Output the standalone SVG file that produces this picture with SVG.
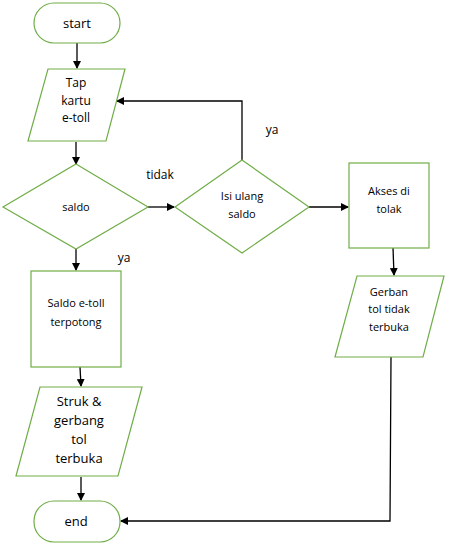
<svg xmlns="http://www.w3.org/2000/svg" width="450" height="545" viewBox="0 0 450 545">
<defs>
<marker id="ah" markerWidth="8" markerHeight="8" refX="7" refY="4" orient="auto" markerUnits="userSpaceOnUse">
<path d="M0,0 L8,4 L0,8 Z" fill="#000"/>
</marker>
<style>
.s{fill:#fff;stroke:#70AD47;stroke-width:1.2}
.t{font-family:"Open Sans","Noto Sans",sans-serif;font-size:11px;fill:#000;text-anchor:middle}
.b{font-size:13px}
.m{font-size:12px}
.c{fill:none;stroke:#000;stroke-width:1.3;marker-end:url(#ah)}
.l{fill:none;stroke:#000;stroke-width:1.3}
</style>
</defs>
<rect width="450" height="545" fill="#fff"/>
<g id="connectors">
<path class="c" d="M77,43 L77,68"/>
<path class="c" d="M76,142 L76,164"/>
<path class="c" d="M148,207 L174,207"/>
<path class="c" d="M242,160 L242,101 L117,101"/>
<path class="c" d="M309,207 L348,207"/>
<path class="c" d="M76,249 L76,270"/>
<path class="c" d="M393,248 L394,275"/>
<path class="c" d="M80,367 L81,386"/>
<path class="c" d="M81,477 L81,500"/>
<path class="c" d="M391,357 L390,521 L121,521"/>
</g>
<g id="label-tidak"><text class="t m" x="160" y="179">tidak</text></g>
<g id="label-ya1"><text class="t m" x="272" y="134">ya</text></g>
<g id="label-ya2"><text class="t m" x="124" y="262">ya</text></g>
<g id="start">
<rect class="s" x="34" y="3" width="86" height="40" rx="20"/>
<text class="t b" x="77" y="28">start</text>
</g>
<g id="tap">
<polygon class="s" points="48,69 125,69 106,141 28,141"/>
<text class="t m" x="76" y="87">Tap</text>
<text class="t m" x="76" y="105">kartu</text>
<text class="t m" x="76" y="122">e-toll</text>
</g>
<g id="saldo">
<polygon class="s" points="76,164 148,207 76,249 3,207"/>
<text class="t" x="76" y="211">saldo</text>
</g>
<g id="isi">
<polygon class="s" points="242,160 309,207 242,253 175,207"/>
<text class="t" x="242" y="200">Isi ulang</text>
<text class="t" x="242" y="218">saldo</text>
</g>
<g id="akses">
<rect class="s" x="349" y="163" width="80" height="85"/>
<text class="t" x="389" y="195">Akses di</text>
<text class="t" x="389" y="213">tolak</text>
</g>
<g id="gerban">
<polygon class="s" points="357,276 444,276 423,357 335,357"/>
<text class="t" x="389" y="296">Gerban</text>
<text class="t" x="389" y="313">tol tidak</text>
<text class="t" x="389" y="331">terbuka</text>
</g>
<g id="potong">
<rect class="s" x="31" y="271" width="90" height="96"/>
<text class="t" x="76" y="307">Saldo e-toll</text>
<text class="t" x="76" y="326">terpotong</text>
</g>
<g id="struk">
<polygon class="s" points="40,387 142,387 118,476 16,476"/>
<text class="t b" x="79" y="406">Struk &amp;</text>
<text class="t b" x="79" y="425">gerbang</text>
<text class="t b" x="79" y="444">tol</text>
<text class="t b" x="79" y="463">terbuka</text>
</g>
<g id="end">
<rect class="s" x="34" y="501" width="86" height="41" rx="20"/>
<text class="t b" x="76" y="526">end</text>
</g>
</svg>
